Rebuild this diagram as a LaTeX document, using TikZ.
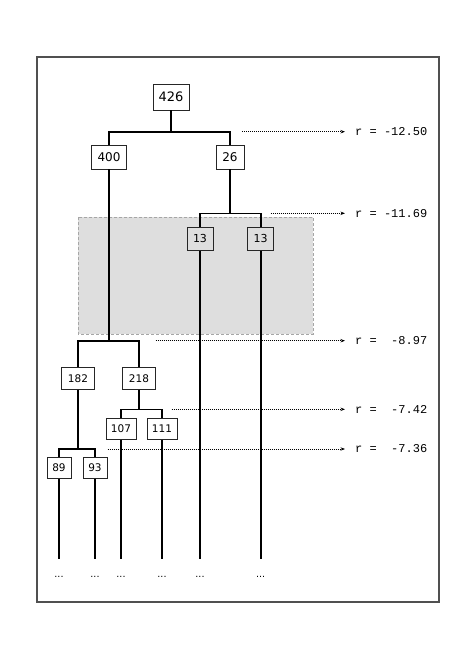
\documentclass[tikz,border=0pt]{standalone}
\usepackage{fontspec}
\setmainfont{DejaVu Sans}
\newfontfamily\monofont{Liberation Mono}
\usetikzlibrary{arrows.meta}
\definecolor{shade}{RGB}{222,222,222}
\definecolor{framec}{RGB}{80,80,80}
\begin{document}
\begin{tikzpicture}[x=1pt,y=-1pt,
  box/.style={draw=black!85,line width=0.8pt,fill=white,inner sep=0pt,font=\fontsize{10.5}{12}\selectfont},
  tree/.style={line width=1.6pt,black},
  rarrow/.style={line width=0.8pt,dash pattern=on 1.2pt off 0.8pt,-{Stealth[length=4.5pt,width=3.4pt]}},
  rlabel/.style={anchor=west,inner sep=0pt,font=\monofont\fontsize{12}{14}\selectfont},
  dots/.style={inner sep=0pt,font=\fontsize{9.5}{10}\selectfont}]
\fill[white] (0,0) rectangle (474,670);
\useasboundingbox (0,0) rectangle (474,670);
\draw[framec,line width=1.3pt] (37,57) rectangle (439,602);
% shaded region
\draw[fill=shade,draw=black!35,line width=0.8pt,dash pattern=on 3pt off 2pt] (78.3,217.3) rectangle (313.3,334.3);
% nodes
\node[box,minimum width=36pt,minimum height=26pt,font=\fontsize{13}{15}\selectfont] (n426) at (171,97) {426};
\node[box,minimum width=35pt,minimum height=24pt,font=\fontsize{12}{14}\selectfont] (n400) at (109,157) {400};
\node[box,minimum width=28pt,minimum height=24pt,font=\fontsize{12}{14}\selectfont] (n26) at (230,157) {26};
\node[box,fill=shade,minimum width=26pt,minimum height=23pt,font=\fontsize{11}{13}\selectfont] (n13a) at (200,238.7) {13};
\node[box,fill=shade,minimum width=26pt,minimum height=23pt,font=\fontsize{11}{13}\selectfont] (n13b) at (260.7,238.7) {13};
\node[box,minimum width=33pt,minimum height=22pt] (n182) at (78,378.3) {182};
\node[box,minimum width=33pt,minimum height=22pt] (n218) at (139,378.3) {218};
\node[box,minimum width=30pt,minimum height=21pt] (n107) at (121,428.7) {107};
\node[box,minimum width=30pt,minimum height=21pt] (n111) at (162,428.7) {111};
\node[box,minimum width=24pt,minimum height=21pt] (n89) at (59,467.8) {89};
\node[box,minimum width=24pt,minimum height=21pt] (n93) at (95,467.8) {93};
% bar coordinates
\coordinate (b1) at (171,131.7);
\coordinate (b2) at (230,213.3);
\coordinate (b3) at (109,340.7);
\coordinate (b4) at (139,409.3);
\coordinate (b5) at (78,449);
% leaf ends
\coordinate (e1) at (59,559.3);
\coordinate (e2) at (95,559.3);
\coordinate (e3) at (121,559.3);
\coordinate (e4) at (162,559.3);
\coordinate (e5) at (200,559.3);
\coordinate (e6) at (260.7,559.3);
% tree
\draw[tree] (n426.south) -- (b1);
\draw[tree] (n400.north) |- (b1) -| (n26.north);
\draw[tree] (n26.south) -- (b2);
\draw[tree] (n13a.north) |- (b2) -| (n13b.north);
\draw[tree] (n400.south) -- (b3);
\draw[tree] (n182.north) |- (b3) -| (n218.north);
\draw[tree] (n218.south) -- (b4);
\draw[tree] (n107.north) |- (b4) -| (n111.north);
\draw[tree] (n182.south) -- (b5);
\draw[tree] (n89.north) |- (b5) -| (n93.north);
\draw[tree] (n89.south) -- (e1);
\draw[tree] (n93.south) -- (e2);
\draw[tree] (n107.south) -- (e3);
\draw[tree] (n111.south) -- (e4);
\draw[tree] (n13a.south) -- (e5);
\draw[tree] (n13b.south) -- (e6);
% dots
\node[dots] (d1) at (59,576.7) {...};
\node[dots] (d2) at (95,576.7) {...};
\node[dots] (d3) at (121,576.7) {...};
\node[dots] (d4) at (162,576.7) {...};
\node[dots] (d5) at (200,576.7) {...};
\node[dots] (d6) at (260.7,576.7) {...};
% r labels
\node[rlabel] (r1) at (355,131.7) {r = -12.50};
\node[rlabel] (r2) at (355,213.3) {r = -11.69};
\node[rlabel] (r3) at (355,340.7) {r =\ \ -8.97};
\node[rlabel] (r4) at (355,409.3) {r =\ \ -7.42};
\node[rlabel] (r5) at (355,449) {r =\ \ -7.36};
% arrows
\coordinate (a1) at (242,131.7);
\coordinate (a2) at (270.7,213.3);
\coordinate (a3) at (155.7,340.7);
\coordinate (a4) at (171.7,409.3);
\coordinate (a5) at (107.7,449);
\draw[rarrow] (a1) -- ([xshift=-10pt]r1.west);
\draw[rarrow] (a2) -- ([xshift=-10pt]r2.west);
\draw[rarrow] (a3) -- ([xshift=-10pt]r3.west);
\draw[rarrow] (a4) -- ([xshift=-10pt]r4.west);
\draw[rarrow] (a5) -- ([xshift=-10pt]r5.west);
\end{tikzpicture}
\end{document}
